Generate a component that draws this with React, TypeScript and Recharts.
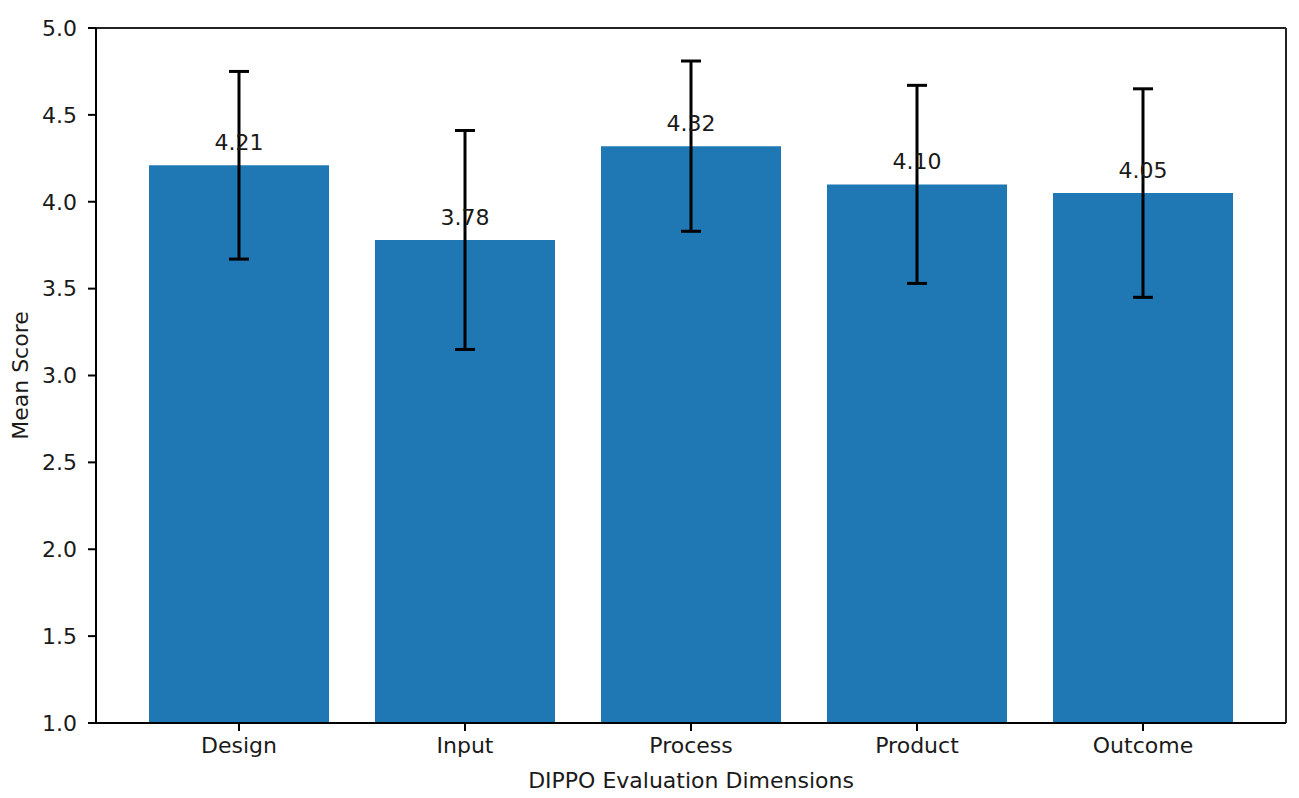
import React from 'react';
import { BarChart, Bar, XAxis, YAxis, ErrorBar, LabelList } from 'recharts';

// DIPPO dimension means with their standard deviations
const dimensions = ['Design', 'Input', 'Process', 'Product', 'Outcome'];
const meanScores = [4.21, 3.78, 4.32, 4.1, 4.05];
const stdDevs = [0.54, 0.63, 0.49, 0.57, 0.6];
const yTicks = [1.0, 1.5, 2.0, 2.5, 3.0, 3.5, 4.0, 4.5, 5.0];

const data = dimensions.map((name, i) => ({ name, mean: meanScores[i], sd: stdDevs[i] }));

const FONT = '"DejaVu Sans", sans-serif';
const TEXT = '#1a1a1a';
const FS = 22;

const ValueLabel = (props: any) => {
  const { x, y, width, value } = props;
  return (
    <text x={x + width / 2} y={y - 15} textAnchor="middle" fontFamily={FONT} fontSize={FS} fill={TEXT}>
      {Number(value).toFixed(2)}
    </text>
  );
};

const XTitle = (props: any) => {
  const { x, y, width } = props.viewBox;
  return (
    <text x={x + width / 2} y={y + 65} textAnchor="middle" fontFamily={FONT} fontSize={FS} fill={TEXT}>
      DIPPO Evaluation Dimensions
    </text>
  );
};

const YTitle = (props: any) => {
  const { y, height } = props.viewBox;
  const cx = 12;
  const cy = y + height / 2;
  return (
    <text
      x={cx}
      y={cy}
      transform={`rotate(-90, ${cx}, ${cy})`}
      textAnchor="middle"
      dominantBaseline="central"
      fontFamily={FONT}
      fontSize={FS}
      fill={TEXT}
    >
      Mean Score
    </text>
  );
};

const tickStyle = { fontFamily: FONT, fontSize: FS, fill: TEXT };

export default function App() {
  return (
    <div style={{ width: 1291, height: 790 }}>
      <BarChart width={1291} height={790} data={data} margin={{ top: 19, right: 12, bottom: 0, left: 0 }}>
        <Bar dataKey="mean" fill="#1f77b4" barSize={180} isAnimationActive={false}>
          <LabelList dataKey="mean" content={ValueLabel} />
          <ErrorBar dataKey="sd" direction="y" width={10} strokeWidth={3} stroke="#000" />
        </Bar>
        <XAxis
          dataKey="name"
          height={75}
          padding={{ left: 30, right: 30 }}
          axisLine={{ stroke: '#000', strokeWidth: 2 }}
          tickLine={{ stroke: '#000', strokeWidth: 2 }}
          tickSize={8}
          tickMargin={6}
          tick={tickStyle}
          label={<XTitle />}
        />
        {/* top and right spines */}
        <XAxis
          xAxisId="top"
          orientation="top"
          dataKey="name"
          height={1}
          tick={false}
          tickLine={false}
          axisLine={{ stroke: '#222', strokeWidth: 2 }}
        />
        <YAxis
          domain={[1, 5]}
          ticks={yTicks}
          allowDataOverflow
          width={88}
          axisLine={{ stroke: '#000', strokeWidth: 2 }}
          tickLine={{ stroke: '#000', strokeWidth: 2 }}
          tickSize={8}
          tickMargin={11}
          tick={tickStyle}
          tickFormatter={(v: number) => v.toFixed(1)}
          label={<YTitle />}
        />
        <YAxis
          yAxisId="right"
          orientation="right"
          width={1}
          tick={false}
          tickLine={false}
          axisLine={{ stroke: '#222', strokeWidth: 2 }}
        />
      </BarChart>
    </div>
  );
}
